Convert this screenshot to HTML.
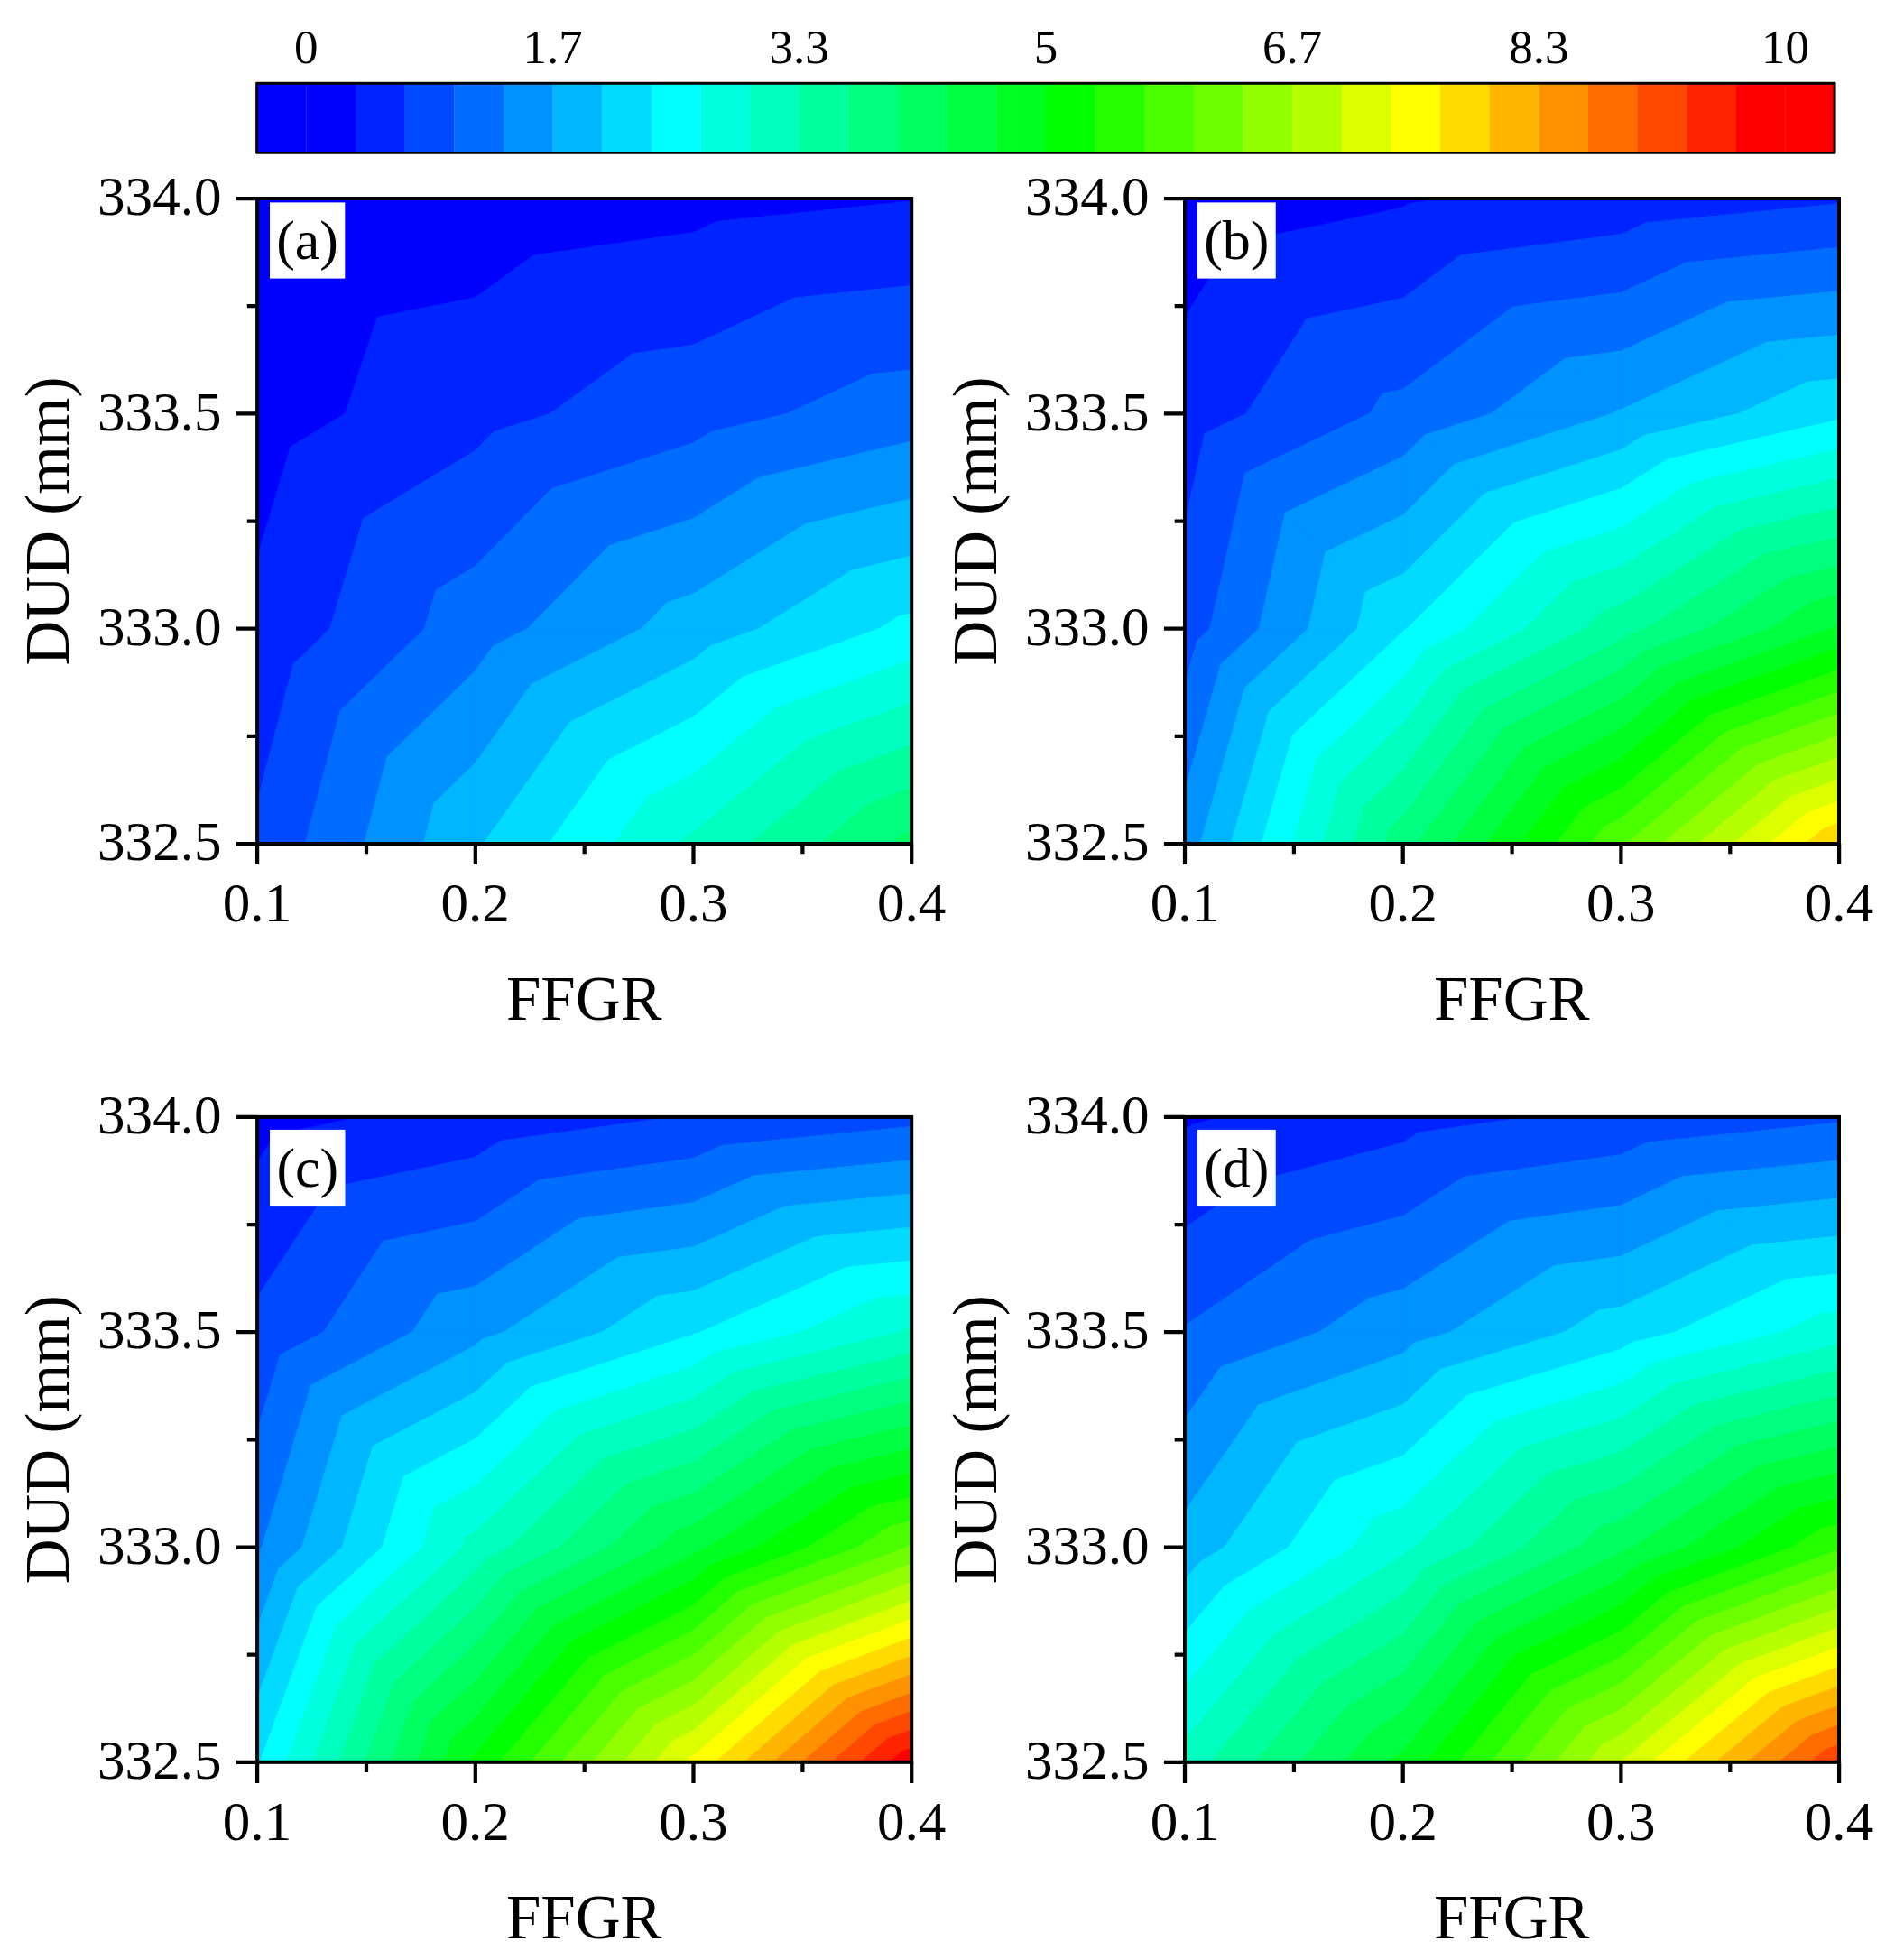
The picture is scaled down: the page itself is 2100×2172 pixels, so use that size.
<!DOCTYPE html>
<html><head><meta charset="utf-8"><title>Contour</title>
<style>html,body{margin:0;padding:0;background:#fff}svg{display:block}text{font-family:"Liberation Serif","Times New Roman",serif;fill:#000}</style></head><body>
<svg width="2100" height="2172" viewBox="0 0 2100 2172">
<rect width="2100" height="2172" fill="#fff"/>
<rect x="284.65" y="92.3" width="54.94" height="77.1" fill="#0000ff"/>
<rect x="339.29" y="92.3" width="54.94" height="77.1" fill="#0000ff"/>
<rect x="393.93" y="92.3" width="54.94" height="77.1" fill="#0024ff"/>
<rect x="448.57" y="92.3" width="54.94" height="77.1" fill="#0049ff"/>
<rect x="503.21" y="92.3" width="54.94" height="77.1" fill="#006dff"/>
<rect x="557.85" y="92.3" width="54.94" height="77.1" fill="#0092ff"/>
<rect x="612.49" y="92.3" width="54.94" height="77.1" fill="#00b6ff"/>
<rect x="667.13" y="92.3" width="54.94" height="77.1" fill="#00dbff"/>
<rect x="721.77" y="92.3" width="54.94" height="77.1" fill="#00ffff"/>
<rect x="776.42" y="92.3" width="54.94" height="77.1" fill="#00ffdf"/>
<rect x="831.06" y="92.3" width="54.94" height="77.1" fill="#00ffbf"/>
<rect x="885.70" y="92.3" width="54.94" height="77.1" fill="#00ff9f"/>
<rect x="940.34" y="92.3" width="54.94" height="77.1" fill="#00ff80"/>
<rect x="994.98" y="92.3" width="54.94" height="77.1" fill="#00ff60"/>
<rect x="1049.62" y="92.3" width="54.94" height="77.1" fill="#00ff40"/>
<rect x="1104.26" y="92.3" width="54.94" height="77.1" fill="#00ff20"/>
<rect x="1158.90" y="92.3" width="54.94" height="77.1" fill="#00ff00"/>
<rect x="1213.54" y="92.3" width="54.94" height="77.1" fill="#24ff00"/>
<rect x="1268.18" y="92.3" width="54.94" height="77.1" fill="#49ff00"/>
<rect x="1322.82" y="92.3" width="54.94" height="77.1" fill="#6dff00"/>
<rect x="1377.46" y="92.3" width="54.94" height="77.1" fill="#92ff00"/>
<rect x="1432.10" y="92.3" width="54.94" height="77.1" fill="#b6ff00"/>
<rect x="1486.74" y="92.3" width="54.94" height="77.1" fill="#dbff00"/>
<rect x="1541.38" y="92.3" width="54.94" height="77.1" fill="#ffff00"/>
<rect x="1596.03" y="92.3" width="54.94" height="77.1" fill="#ffdb00"/>
<rect x="1650.67" y="92.3" width="54.94" height="77.1" fill="#ffb600"/>
<rect x="1705.31" y="92.3" width="54.94" height="77.1" fill="#ff9200"/>
<rect x="1759.95" y="92.3" width="54.94" height="77.1" fill="#ff6d00"/>
<rect x="1814.59" y="92.3" width="54.94" height="77.1" fill="#ff4900"/>
<rect x="1869.23" y="92.3" width="54.94" height="77.1" fill="#ff2400"/>
<rect x="1923.87" y="92.3" width="54.94" height="77.1" fill="#ff0000"/>
<rect x="1978.51" y="92.3" width="54.94" height="77.1" fill="#ff0000"/>
<rect x="284.6" y="92.3" width="1748.5" height="77.1" fill="none" stroke="#000" stroke-width="2.9" stroke-linejoin="round"/>
<text x="339.3" y="70.0" font-size="53.0" text-anchor="middle" >0</text>
<text x="612.5" y="70.0" font-size="53.0" text-anchor="middle" >1.7</text>
<text x="885.7" y="70.0" font-size="53.0" text-anchor="middle" >3.3</text>
<text x="1158.9" y="70.0" font-size="53.0" text-anchor="middle" >5</text>
<text x="1432.1" y="70.0" font-size="53.0" text-anchor="middle" >6.7</text>
<text x="1705.3" y="70.0" font-size="53.0" text-anchor="middle" >8.3</text>
<text x="1978.5" y="70.0" font-size="53.0" text-anchor="middle" >10</text>
<g>
<rect x="285.1" y="220.0" width="725.1" height="715.0" fill="#0000ff"/>
<path d="M526.8,329.7L526.8,458.3L418.4,351.4ZM418.4,351.4L526.8,458.3L382.7,458.3ZM382.7,458.3L526.8,458.3L526.8,696.7L322.2,494.9ZM322.2,494.9L526.8,696.7L285.1,696.7L285.1,617.2ZM285.1,696.7L526.8,696.7L526.8,935.0ZM285.1,696.7L526.8,935.0L285.1,935.0ZM768.5,257.5L768.5,458.3L590.8,283.1ZM590.8,283.1L768.5,458.3L526.8,458.3L526.8,329.7ZM526.8,458.3L768.5,458.3L768.5,696.7ZM526.8,458.3L768.5,696.7L526.8,696.7ZM526.8,696.7L768.5,696.7L768.5,935.0ZM526.8,696.7L768.5,935.0L526.8,935.0ZM1010.2,222.9L1010.2,458.3L794.3,245.5ZM794.3,245.5L1010.2,458.3L768.5,458.3L768.5,257.5ZM768.5,458.3L1010.2,458.3L1010.2,696.7ZM768.5,458.3L1010.2,696.7L768.5,696.7ZM768.5,696.7L1010.2,696.7L1010.2,935.0ZM768.5,696.7L1010.2,935.0L768.5,935.0Z" fill="#0024ff" stroke="#0024ff" stroke-width="1" stroke-linejoin="round"/>
<path d="M526.8,499.3L526.8,696.7L402.8,574.3ZM402.8,574.3L526.8,696.7L365.7,696.7ZM365.7,696.7L526.8,696.7L526.8,935.0L325.2,736.1ZM325.2,736.1L526.8,935.0L285.1,935.0L285.1,887.8ZM768.5,382.3L768.5,458.3L701.2,391.9ZM701.2,391.9L768.5,458.3L610.0,458.3ZM610.0,458.3L768.5,458.3L768.5,696.7L547.3,478.5ZM547.3,478.5L768.5,696.7L526.8,696.7L526.8,499.3ZM526.8,696.7L768.5,696.7L768.5,935.0ZM526.8,696.7L768.5,935.0L526.8,935.0ZM1010.2,316.5L1010.2,458.3L880.1,330.1ZM880.1,330.1L1010.2,458.3L768.5,458.3L768.5,382.3ZM768.5,458.3L1010.2,458.3L1010.2,696.7ZM768.5,458.3L1010.2,696.7L768.5,696.7ZM768.5,696.7L1010.2,696.7L1010.2,935.0ZM768.5,696.7L1010.2,935.0L768.5,935.0Z" fill="#0049ff" stroke="#0049ff" stroke-width="1" stroke-linejoin="round"/>
<path d="M526.8,627.5L526.8,696.7L483.3,653.8ZM483.3,653.8L526.8,696.7L470.3,696.7ZM470.3,696.7L526.8,696.7L526.8,935.0L377.1,787.4ZM377.1,787.4L526.8,935.0L338.2,935.0ZM768.5,490.9L768.5,696.7L611.2,541.6ZM611.2,541.6L768.5,696.7L526.8,696.7L526.8,627.5ZM526.8,696.7L768.5,696.7L768.5,935.0ZM526.8,696.7L768.5,935.0L526.8,935.0ZM1010.2,410.0L1010.2,458.3L965.9,414.7ZM965.9,414.7L1010.2,458.3L872.6,458.3ZM872.6,458.3L1010.2,458.3L1010.2,696.7L788.7,478.3ZM788.7,478.3L1010.2,696.7L768.5,696.7L768.5,490.9ZM768.5,696.7L1010.2,696.7L1010.2,935.0ZM768.5,696.7L1010.2,935.0L768.5,935.0Z" fill="#006dff" stroke="#006dff" stroke-width="1" stroke-linejoin="round"/>
<path d="M526.8,743.5L526.8,935.0L429.1,838.6ZM429.1,838.6L526.8,935.0L403.7,935.0ZM768.5,574.6L768.5,696.7L675.2,604.6ZM675.2,604.6L768.5,696.7L584.7,696.7ZM584.7,696.7L768.5,696.7L768.5,935.0L546.4,716.0ZM546.4,716.0L768.5,935.0L526.8,935.0L526.8,743.5ZM1010.2,489.1L1010.2,696.7L840.6,529.4ZM840.6,529.4L1010.2,696.7L768.5,696.7L768.5,574.6ZM768.5,696.7L1010.2,696.7L1010.2,935.0ZM768.5,696.7L1010.2,935.0L768.5,935.0Z" fill="#0092ff" stroke="#0092ff" stroke-width="1" stroke-linejoin="round"/>
<path d="M526.8,845.4L526.8,935.0L481.1,889.9ZM481.1,889.9L526.8,935.0L469.2,935.0ZM768.5,658.2L768.5,696.7L739.1,667.7ZM739.1,667.7L768.5,696.7L710.6,696.7ZM710.6,696.7L768.5,696.7L768.5,935.0L589.1,758.0ZM589.1,758.0L768.5,935.0L526.8,935.0L526.8,845.4ZM1010.2,552.6L1010.2,696.7L892.5,580.6ZM892.5,580.6L1010.2,696.7L768.5,696.7L768.5,658.2ZM768.5,696.7L1010.2,696.7L1010.2,935.0ZM768.5,696.7L1010.2,935.0L768.5,935.0Z" fill="#00b6ff" stroke="#00b6ff" stroke-width="1" stroke-linejoin="round"/>
<path d="M768.5,731.0L768.5,935.0L631.7,800.1ZM631.7,800.1L768.5,935.0L535.5,935.0ZM1010.2,616.1L1010.2,696.7L944.4,631.8ZM944.4,631.8L1010.2,696.7L840.7,696.7ZM840.7,696.7L1010.2,696.7L1010.2,935.0L787.6,715.5ZM787.6,715.5L1010.2,935.0L768.5,935.0L768.5,731.0Z" fill="#00dbff" stroke="#00dbff" stroke-width="1" stroke-linejoin="round"/>
<path d="M768.5,794.5L768.5,935.0L674.3,842.1ZM674.3,842.1L768.5,935.0L608.1,935.0ZM1010.2,679.6L1010.2,696.7L996.2,682.9ZM996.2,682.9L1010.2,696.7L974.3,696.7ZM974.3,696.7L1010.2,696.7L1010.2,935.0L822.9,750.3ZM822.9,750.3L1010.2,935.0L768.5,935.0L768.5,794.5Z" fill="#00ffff" stroke="#00ffff" stroke-width="1" stroke-linejoin="round"/>
<path d="M768.5,858.1L768.5,935.0L716.9,884.1ZM716.9,884.1L768.5,935.0L680.7,935.0ZM1010.2,731.3L1010.2,935.0L858.3,785.2ZM858.3,785.2L1010.2,935.0L768.5,935.0L768.5,858.1Z" fill="#00ffdf" stroke="#00ffdf" stroke-width="1" stroke-linejoin="round"/>
<path d="M768.5,921.7L768.5,935.0L759.6,926.2ZM759.6,926.2L768.5,935.0L753.3,935.0ZM1010.2,778.7L1010.2,935.0L893.6,820.0ZM893.6,820.0L1010.2,935.0L768.5,935.0L768.5,921.7Z" fill="#00ffbf" stroke="#00ffbf" stroke-width="1" stroke-linejoin="round"/>
<path d="M1010.2,826.0L1010.2,935.0L928.9,854.9ZM928.9,854.9L1010.2,935.0L830.3,935.0Z" fill="#00ff9f" stroke="#00ff9f" stroke-width="1" stroke-linejoin="round"/>
<path d="M1010.2,873.4L1010.2,935.0L964.3,889.7ZM964.3,889.7L1010.2,935.0L908.5,935.0Z" fill="#00ff80" stroke="#00ff80" stroke-width="1" stroke-linejoin="round"/>
<path d="M1010.2,920.8L1010.2,935.0L999.6,924.5ZM999.6,924.5L1010.2,935.0L986.7,935.0Z" fill="#00ff60" stroke="#00ff60" stroke-width="1" stroke-linejoin="round"/>
</g>
<rect x="285.1" y="220.0" width="725.1" height="715.0" fill="none" stroke="#000" stroke-width="4.0"/>
<path d="M285.1,220.0h-23.1M285.1,935.0v23.1M285.1,339.2h-11.3M406.0,935.0v11.3M285.1,458.3h-23.1M526.8,935.0v23.1M285.1,577.5h-11.3M647.7,935.0v11.3M285.1,696.7h-23.1M768.5,935.0v23.1M285.1,815.8h-11.3M889.4,935.0v11.3M285.1,935.0h-23.1M1010.2,935.0v23.1" stroke="#000" stroke-width="4.25" fill="none"/>
<text x="245.5" y="238.2" font-size="61.1" text-anchor="end" >334.0</text>
<text x="245.5" y="476.5" font-size="61.1" text-anchor="end" >333.5</text>
<text x="245.5" y="714.9" font-size="61.1" text-anchor="end" >333.0</text>
<text x="245.5" y="953.2" font-size="61.1" text-anchor="end" >332.5</text>
<text x="285.0" y="1020.9" font-size="61.1" text-anchor="middle" >0.1</text>
<text x="526.7" y="1020.9" font-size="61.1" text-anchor="middle" >0.2</text>
<text x="768.4" y="1020.9" font-size="61.1" text-anchor="middle" >0.3</text>
<text x="1010.1" y="1020.9" font-size="61.1" text-anchor="middle" >0.4</text>
<text x="647.3" y="1130.4" font-size="69.0" text-anchor="middle" >FFGR</text>
<text transform="translate(75.7,577.5) rotate(-90)" font-size="69.0" text-anchor="middle">DUD (mm)</text>
<rect x="299.0" y="224.4" width="83.3" height="84.2" fill="#fff"/>
<text x="340.6" y="287.1" font-size="62.0" text-anchor="middle" >(a)</text>
<g>
<rect x="1313.0" y="220.0" width="725.0" height="715.0" fill="#0000ff"/>
<path d="M1554.7,230.1L1554.7,458.3L1364.2,270.5ZM1364.2,270.5L1554.7,458.3L1313.0,458.3L1313.0,351.0ZM1313.0,458.3L1554.7,458.3L1554.7,696.7ZM1313.0,458.3L1554.7,696.7L1313.0,696.7ZM1313.0,696.7L1554.7,696.7L1554.7,935.0ZM1313.0,696.7L1554.7,935.0L1313.0,935.0ZM1604.2,220.0L1796.4,220.0L1796.4,458.3L1560.5,225.7ZM1560.5,225.7L1796.4,458.3L1554.7,458.3L1554.7,230.1ZM1554.7,458.3L1796.4,458.3L1796.4,696.7ZM1554.7,458.3L1796.4,696.7L1554.7,696.7ZM1554.7,696.7L1796.4,696.7L1796.4,935.0ZM1554.7,696.7L1796.4,935.0L1554.7,935.0ZM1796.4,220.0L2038.1,220.0L2038.1,458.3ZM1796.4,220.0L2038.1,458.3L1796.4,458.3ZM1796.4,458.3L2038.1,458.3L2038.1,696.7ZM1796.4,458.3L2038.1,696.7L1796.4,696.7ZM1796.4,696.7L2038.1,696.7L2038.1,935.0ZM1796.4,696.7L2038.1,935.0L1796.4,935.0Z" fill="#0024ff" stroke="#0024ff" stroke-width="1" stroke-linejoin="round"/>
<path d="M1554.7,330.6L1554.7,458.3L1448.2,353.2ZM1448.2,353.2L1554.7,458.3L1381.3,458.3ZM1381.3,458.3L1554.7,458.3L1554.7,696.7L1335.3,480.3ZM1335.3,480.3L1554.7,696.7L1313.0,696.7L1313.0,578.7ZM1313.0,696.7L1554.7,696.7L1554.7,935.0ZM1313.0,696.7L1554.7,935.0L1313.0,935.0ZM1796.4,259.6L1796.4,458.3L1618.5,282.9ZM1618.5,282.9L1796.4,458.3L1554.7,458.3L1554.7,330.6ZM1554.7,458.3L1796.4,458.3L1796.4,696.7ZM1554.7,458.3L1796.4,696.7L1554.7,696.7ZM1554.7,696.7L1796.4,696.7L1796.4,935.0ZM1554.7,696.7L1796.4,935.0L1554.7,935.0ZM2038.1,225.8L2038.1,458.3L1823.7,246.9ZM1823.7,246.9L2038.1,458.3L1796.4,458.3L1796.4,259.6ZM1796.4,458.3L2038.1,458.3L2038.1,696.7ZM1796.4,458.3L2038.1,696.7L1796.4,696.7ZM1796.4,696.7L2038.1,696.7L2038.1,935.0ZM1796.4,696.7L2038.1,935.0L1796.4,935.0Z" fill="#0049ff" stroke="#0049ff" stroke-width="1" stroke-linejoin="round"/>
<path d="M1554.7,431.2L1554.7,458.3L1532.1,436.0ZM1532.1,436.0L1554.7,458.3L1517.9,458.3ZM1517.9,458.3L1554.7,458.3L1554.7,696.7L1379.8,524.2ZM1379.8,524.2L1554.7,696.7L1340.8,696.7ZM1340.8,696.7L1554.7,696.7L1554.7,935.0L1326.6,710.0ZM1326.6,710.0L1554.7,935.0L1313.0,935.0L1313.0,757.1ZM1796.4,324.3L1796.4,458.3L1676.4,340.0ZM1676.4,340.0L1796.4,458.3L1554.7,458.3L1554.7,431.2ZM1554.7,458.3L1796.4,458.3L1796.4,696.7ZM1554.7,458.3L1796.4,696.7L1554.7,696.7ZM1554.7,696.7L1796.4,696.7L1796.4,935.0ZM1554.7,696.7L1796.4,935.0L1554.7,935.0ZM2038.1,274.3L2038.1,458.3L1868.4,291.0ZM1868.4,291.0L2038.1,458.3L1796.4,458.3L1796.4,324.3ZM1796.4,458.3L2038.1,458.3L2038.1,696.7ZM1796.4,458.3L2038.1,696.7L1796.4,696.7ZM1796.4,696.7L2038.1,696.7L2038.1,935.0ZM1796.4,696.7L2038.1,935.0L1796.4,935.0Z" fill="#006dff" stroke="#006dff" stroke-width="1" stroke-linejoin="round"/>
<path d="M1554.7,505.9L1554.7,696.7L1424.3,568.1ZM1424.3,568.1L1554.7,696.7L1395.2,696.7ZM1395.2,696.7L1554.7,696.7L1554.7,935.0L1353.1,736.2ZM1353.1,736.2L1554.7,935.0L1313.0,935.0L1313.0,875.7ZM1796.4,389.1L1796.4,458.3L1734.4,397.2ZM1734.4,397.2L1796.4,458.3L1652.7,458.3ZM1652.7,458.3L1796.4,458.3L1796.4,696.7L1578.8,482.1ZM1578.8,482.1L1796.4,696.7L1554.7,696.7L1554.7,505.9ZM1554.7,696.7L1796.4,696.7L1796.4,935.0ZM1554.7,696.7L1796.4,935.0L1554.7,935.0ZM2038.1,322.8L2038.1,458.3L1913.1,335.1ZM1913.1,335.1L2038.1,458.3L1796.4,458.3L1796.4,389.1ZM1796.4,458.3L2038.1,458.3L2038.1,696.7ZM1796.4,458.3L2038.1,696.7L1796.4,696.7ZM1796.4,696.7L2038.1,696.7L2038.1,935.0ZM1796.4,696.7L2038.1,935.0L1796.4,935.0Z" fill="#0092ff" stroke="#0092ff" stroke-width="1" stroke-linejoin="round"/>
<path d="M1554.7,571.0L1554.7,696.7L1468.8,612.0ZM1468.8,612.0L1554.7,696.7L1449.7,696.7ZM1449.7,696.7L1554.7,696.7L1554.7,935.0L1379.6,762.3ZM1379.6,762.3L1554.7,935.0L1330.1,935.0ZM1796.4,453.8L1796.4,458.3L1792.4,454.3ZM1792.4,454.3L1796.4,458.3L1787.0,458.3ZM1787.0,458.3L1796.4,458.3L1796.4,696.7L1611.7,514.5ZM1611.7,514.5L1796.4,696.7L1554.7,696.7L1554.7,571.0ZM1554.7,696.7L1796.4,696.7L1796.4,935.0ZM1554.7,696.7L1796.4,935.0L1554.7,935.0ZM2038.1,371.3L2038.1,458.3L1957.9,379.2ZM1957.9,379.2L2038.1,458.3L1796.4,458.3L1796.4,453.8ZM1796.4,458.3L2038.1,458.3L2038.1,696.7ZM1796.4,458.3L2038.1,696.7L1796.4,696.7ZM1796.4,696.7L2038.1,696.7L2038.1,935.0ZM1796.4,696.7L2038.1,935.0L1796.4,935.0Z" fill="#00b6ff" stroke="#00b6ff" stroke-width="1" stroke-linejoin="round"/>
<path d="M1554.7,636.1L1554.7,696.7L1513.3,655.8ZM1513.3,655.8L1554.7,696.7L1504.1,696.7ZM1504.1,696.7L1554.7,696.7L1554.7,935.0L1406.2,788.5ZM1406.2,788.5L1554.7,935.0L1364.1,935.0ZM1796.4,498.4L1796.4,696.7L1644.7,547.0ZM1644.7,547.0L1796.4,696.7L1554.7,696.7L1554.7,636.1ZM1554.7,696.7L1796.4,696.7L1796.4,935.0ZM1554.7,696.7L1796.4,935.0L1554.7,935.0ZM2038.1,419.8L2038.1,458.3L2002.6,423.3ZM2002.6,423.3L2038.1,458.3L1926.7,458.3ZM1926.7,458.3L2038.1,458.3L2038.1,696.7L1821.2,482.8ZM1821.2,482.8L2038.1,696.7L1796.4,696.7L1796.4,498.4ZM1796.4,696.7L2038.1,696.7L2038.1,935.0ZM1796.4,696.7L2038.1,935.0L1796.4,935.0Z" fill="#00dbff" stroke="#00dbff" stroke-width="1" stroke-linejoin="round"/>
<path d="M1554.7,700.2L1554.7,935.0L1432.7,814.6ZM1432.7,814.6L1554.7,935.0L1398.1,935.0ZM1796.4,541.4L1796.4,696.7L1677.6,579.5ZM1677.6,579.5L1796.4,696.7L1559.3,696.7ZM1559.3,696.7L1796.4,696.7L1796.4,935.0L1556.3,698.2ZM1556.3,698.2L1796.4,935.0L1554.7,935.0L1554.7,700.2ZM2038.1,465.0L2038.1,696.7L1847.9,509.1ZM1847.9,509.1L2038.1,696.7L1796.4,696.7L1796.4,541.4ZM1796.4,696.7L2038.1,696.7L2038.1,935.0ZM1796.4,696.7L2038.1,935.0L1796.4,935.0Z" fill="#00ffff" stroke="#00ffff" stroke-width="1" stroke-linejoin="round"/>
<path d="M1554.7,751.3L1554.7,935.0L1459.2,840.8ZM1459.2,840.8L1554.7,935.0L1432.2,935.0ZM1796.4,584.5L1796.4,696.7L1710.6,612.0ZM1710.6,612.0L1796.4,696.7L1625.1,696.7ZM1625.1,696.7L1796.4,696.7L1796.4,935.0L1578.4,720.0ZM1578.4,720.0L1796.4,935.0L1554.7,935.0L1554.7,751.3ZM2038.1,497.5L2038.1,696.7L1874.6,535.4ZM1874.6,535.4L2038.1,696.7L1796.4,696.7L1796.4,584.5ZM1796.4,696.7L2038.1,696.7L2038.1,935.0ZM1796.4,696.7L2038.1,935.0L1796.4,935.0Z" fill="#00ffdf" stroke="#00ffdf" stroke-width="1" stroke-linejoin="round"/>
<path d="M1554.7,802.3L1554.7,935.0L1485.7,867.0ZM1485.7,867.0L1554.7,935.0L1466.2,935.0ZM1796.4,627.6L1796.4,696.7L1743.5,644.5ZM1743.5,644.5L1796.4,696.7L1690.9,696.7ZM1690.9,696.7L1796.4,696.7L1796.4,935.0L1600.5,741.8ZM1600.5,741.8L1796.4,935.0L1554.7,935.0L1554.7,802.3ZM2038.1,530.0L2038.1,696.7L1901.3,561.7ZM1901.3,561.7L2038.1,696.7L1796.4,696.7L1796.4,627.6ZM1796.4,696.7L2038.1,696.7L2038.1,935.0ZM1796.4,696.7L2038.1,935.0L1796.4,935.0Z" fill="#00ffbf" stroke="#00ffbf" stroke-width="1" stroke-linejoin="round"/>
<path d="M1554.7,853.3L1554.7,935.0L1512.3,893.1ZM1512.3,893.1L1554.7,935.0L1500.2,935.0ZM1796.4,670.6L1796.4,696.7L1776.5,677.0ZM1776.5,677.0L1796.4,696.7L1756.6,696.7ZM1756.6,696.7L1796.4,696.7L1796.4,935.0L1622.6,763.6ZM1622.6,763.6L1796.4,935.0L1554.7,935.0L1554.7,853.3ZM2038.1,562.5L2038.1,696.7L1927.9,588.0ZM1927.9,588.0L2038.1,696.7L1796.4,696.7L1796.4,670.6ZM1796.4,696.7L2038.1,696.7L2038.1,935.0ZM1796.4,696.7L2038.1,935.0L1796.4,935.0Z" fill="#00ff9f" stroke="#00ff9f" stroke-width="1" stroke-linejoin="round"/>
<path d="M1554.7,904.3L1554.7,935.0L1538.8,919.3ZM1538.8,919.3L1554.7,935.0L1534.3,935.0ZM1796.4,709.6L1796.4,935.0L1644.7,785.4ZM1644.7,785.4L1796.4,935.0L1554.7,935.0L1554.7,904.3ZM2038.1,595.0L2038.1,696.7L1954.6,614.3ZM1954.6,614.3L2038.1,696.7L1823.5,696.7ZM1823.5,696.7L2038.1,696.7L2038.1,935.0L1803.6,703.7ZM1803.6,703.7L2038.1,935.0L1796.4,935.0L1796.4,709.6Z" fill="#00ff80" stroke="#00ff80" stroke-width="1" stroke-linejoin="round"/>
<path d="M1796.4,742.5L1796.4,935.0L1666.8,807.2ZM1666.8,807.2L1796.4,935.0L1570.1,935.0ZM2038.1,627.5L2038.1,696.7L1981.3,640.6ZM1981.3,640.6L2038.1,696.7L1892.1,696.7ZM1892.1,696.7L2038.1,696.7L2038.1,935.0L1821.7,721.6ZM1821.7,721.6L2038.1,935.0L1796.4,935.0L1796.4,742.5Z" fill="#00ff60" stroke="#00ff60" stroke-width="1" stroke-linejoin="round"/>
<path d="M1796.4,775.3L1796.4,935.0L1688.9,829.0ZM1688.9,829.0L1796.4,935.0L1608.7,935.0ZM2038.1,660.0L2038.1,696.7L2008.0,666.9ZM2008.0,666.9L2038.1,696.7L1960.6,696.7ZM1960.6,696.7L2038.1,696.7L2038.1,935.0L1839.8,739.5ZM1839.8,739.5L2038.1,935.0L1796.4,935.0L1796.4,775.3Z" fill="#00ff40" stroke="#00ff40" stroke-width="1" stroke-linejoin="round"/>
<path d="M1796.4,808.1L1796.4,935.0L1711.0,850.8ZM1711.0,850.8L1796.4,935.0L1647.3,935.0ZM2038.1,692.4L2038.1,696.7L2034.6,693.2ZM2034.6,693.2L2038.1,696.7L2029.2,696.7ZM2029.2,696.7L2038.1,696.7L2038.1,935.0L1857.9,757.3ZM1857.9,757.3L2038.1,935.0L1796.4,935.0L1796.4,808.1Z" fill="#00ff20" stroke="#00ff20" stroke-width="1" stroke-linejoin="round"/>
<path d="M1796.4,840.9L1796.4,935.0L1733.1,872.6ZM1733.1,872.6L1796.4,935.0L1685.9,935.0ZM2038.1,717.8L2038.1,935.0L1876.1,775.2ZM1876.1,775.2L2038.1,935.0L1796.4,935.0L1796.4,840.9Z" fill="#00ff00" stroke="#00ff00" stroke-width="1" stroke-linejoin="round"/>
<path d="M1796.4,873.8L1796.4,935.0L1755.2,894.4ZM1755.2,894.4L1796.4,935.0L1724.5,935.0ZM2038.1,742.1L2038.1,935.0L1894.2,793.1ZM1894.2,793.1L2038.1,935.0L1796.4,935.0L1796.4,873.8Z" fill="#24ff00" stroke="#24ff00" stroke-width="1" stroke-linejoin="round"/>
<path d="M1796.4,906.6L1796.4,935.0L1777.3,916.1ZM1777.3,916.1L1796.4,935.0L1763.0,935.0ZM2038.1,766.4L2038.1,935.0L1912.3,811.0ZM1912.3,811.0L2038.1,935.0L1796.4,935.0L1796.4,906.6Z" fill="#49ff00" stroke="#49ff00" stroke-width="1" stroke-linejoin="round"/>
<path d="M2038.1,790.7L2038.1,935.0L1930.4,828.8ZM1930.4,828.8L2038.1,935.0L1801.8,935.0Z" fill="#6dff00" stroke="#6dff00" stroke-width="1" stroke-linejoin="round"/>
<path d="M2038.1,815.0L2038.1,935.0L1948.6,846.7ZM1948.6,846.7L2038.1,935.0L1841.6,935.0Z" fill="#92ff00" stroke="#92ff00" stroke-width="1" stroke-linejoin="round"/>
<path d="M2038.1,839.3L2038.1,935.0L1966.7,864.6ZM1966.7,864.6L2038.1,935.0L1881.4,935.0Z" fill="#b6ff00" stroke="#b6ff00" stroke-width="1" stroke-linejoin="round"/>
<path d="M2038.1,863.6L2038.1,935.0L1984.8,882.5ZM1984.8,882.5L2038.1,935.0L1921.1,935.0Z" fill="#dbff00" stroke="#dbff00" stroke-width="1" stroke-linejoin="round"/>
<path d="M2038.1,887.9L2038.1,935.0L2002.9,900.3ZM2002.9,900.3L2038.1,935.0L1960.9,935.0Z" fill="#ffff00" stroke="#ffff00" stroke-width="1" stroke-linejoin="round"/>
<path d="M2038.1,912.2L2038.1,935.0L2021.1,918.2ZM2021.1,918.2L2038.1,935.0L2000.7,935.0Z" fill="#ffdb00" stroke="#ffdb00" stroke-width="1" stroke-linejoin="round"/>
</g>
<rect x="1313.0" y="220.0" width="725.0" height="715.0" fill="none" stroke="#000" stroke-width="4.0"/>
<path d="M1313.0,220.0h-23.1M1313.0,935.0v23.1M1313.0,339.2h-11.3M1433.9,935.0v11.3M1313.0,458.3h-23.1M1554.7,935.0v23.1M1313.0,577.5h-11.3M1675.6,935.0v11.3M1313.0,696.7h-23.1M1796.4,935.0v23.1M1313.0,815.8h-11.3M1917.3,935.0v11.3M1313.0,935.0h-23.1M2038.1,935.0v23.1" stroke="#000" stroke-width="4.25" fill="none"/>
<text x="1273.5" y="238.2" font-size="61.1" text-anchor="end" >334.0</text>
<text x="1273.5" y="476.5" font-size="61.1" text-anchor="end" >333.5</text>
<text x="1273.5" y="714.9" font-size="61.1" text-anchor="end" >333.0</text>
<text x="1273.5" y="953.2" font-size="61.1" text-anchor="end" >332.5</text>
<text x="1313.0" y="1020.9" font-size="61.1" text-anchor="middle" >0.1</text>
<text x="1554.6" y="1020.9" font-size="61.1" text-anchor="middle" >0.2</text>
<text x="1796.3" y="1020.9" font-size="61.1" text-anchor="middle" >0.3</text>
<text x="2038.0" y="1020.9" font-size="61.1" text-anchor="middle" >0.4</text>
<text x="1675.2" y="1130.4" font-size="69.0" text-anchor="middle" >FFGR</text>
<text transform="translate(1103.6,577.5) rotate(-90)" font-size="69.0" text-anchor="middle">DUD (mm)</text>
<rect x="1326.9" y="224.4" width="86.8" height="84.2" fill="#fff"/>
<text x="1370.3" y="287.1" font-size="62.0" text-anchor="middle" >(b)</text>
<g>
<rect x="285.1" y="1237.9" width="725.1" height="714.9" fill="#0000ff"/>
<path d="M398.2,1237.9L526.8,1237.9L526.8,1476.2L305.1,1257.6ZM305.1,1257.6L526.8,1476.2L285.1,1476.2L285.1,1288.0ZM285.1,1476.2L526.8,1476.2L526.8,1714.5ZM285.1,1476.2L526.8,1714.5L285.1,1714.5ZM285.1,1714.5L526.8,1714.5L526.8,1952.8ZM285.1,1714.5L526.8,1952.8L285.1,1952.8ZM526.8,1237.9L768.5,1237.9L768.5,1476.2ZM526.8,1237.9L768.5,1476.2L526.8,1476.2ZM526.8,1476.2L768.5,1476.2L768.5,1714.5ZM526.8,1476.2L768.5,1714.5L526.8,1714.5ZM526.8,1714.5L768.5,1714.5L768.5,1952.8ZM526.8,1714.5L768.5,1952.8L526.8,1952.8ZM768.5,1237.9L1010.2,1237.9L1010.2,1476.2ZM768.5,1237.9L1010.2,1476.2L768.5,1476.2ZM768.5,1476.2L1010.2,1476.2L1010.2,1714.5ZM768.5,1476.2L1010.2,1714.5L768.5,1714.5ZM768.5,1714.5L1010.2,1714.5L1010.2,1952.8ZM768.5,1714.5L1010.2,1952.8L768.5,1952.8Z" fill="#0024ff" stroke="#0024ff" stroke-width="1" stroke-linejoin="round"/>
<path d="M526.8,1282.3L526.8,1476.2L364.9,1316.5ZM364.9,1316.5L526.8,1476.2L285.1,1476.2L285.1,1437.8ZM285.1,1476.2L526.8,1476.2L526.8,1714.5ZM285.1,1476.2L526.8,1714.5L285.1,1714.5ZM285.1,1714.5L526.8,1714.5L526.8,1952.8ZM285.1,1714.5L526.8,1952.8L285.1,1952.8ZM744.0,1237.9L768.5,1237.9L768.5,1476.2L553.8,1264.5ZM553.8,1264.5L768.5,1476.2L526.8,1476.2L526.8,1282.3ZM526.8,1476.2L768.5,1476.2L768.5,1714.5ZM526.8,1476.2L768.5,1714.5L526.8,1714.5ZM526.8,1714.5L768.5,1714.5L768.5,1952.8ZM526.8,1714.5L768.5,1952.8L526.8,1952.8ZM768.5,1237.9L1010.2,1237.9L1010.2,1476.2ZM768.5,1237.9L1010.2,1476.2L768.5,1476.2ZM768.5,1476.2L1010.2,1476.2L1010.2,1714.5ZM768.5,1476.2L1010.2,1714.5L768.5,1714.5ZM768.5,1714.5L1010.2,1714.5L1010.2,1952.8ZM768.5,1714.5L1010.2,1952.8L768.5,1952.8Z" fill="#0049ff" stroke="#0049ff" stroke-width="1" stroke-linejoin="round"/>
<path d="M526.8,1353.8L526.8,1476.2L424.6,1375.4ZM424.6,1375.4L526.8,1476.2L358.4,1476.2ZM358.4,1476.2L526.8,1476.2L526.8,1714.5L310.6,1501.3ZM310.6,1501.3L526.8,1714.5L285.1,1714.5L285.1,1585.0ZM285.1,1714.5L526.8,1714.5L526.8,1952.8ZM285.1,1714.5L526.8,1952.8L285.1,1952.8ZM768.5,1283.5L768.5,1476.2L597.4,1307.5ZM597.4,1307.5L768.5,1476.2L526.8,1476.2L526.8,1353.8ZM526.8,1476.2L768.5,1476.2L768.5,1714.5ZM526.8,1476.2L768.5,1714.5L526.8,1714.5ZM526.8,1714.5L768.5,1714.5L768.5,1952.8ZM526.8,1714.5L768.5,1952.8L526.8,1952.8ZM1010.2,1248.5L1010.2,1476.2L800.4,1269.3ZM800.4,1269.3L1010.2,1476.2L768.5,1476.2L768.5,1283.5ZM768.5,1476.2L1010.2,1476.2L1010.2,1714.5ZM768.5,1476.2L1010.2,1714.5L768.5,1714.5ZM768.5,1714.5L1010.2,1714.5L1010.2,1952.8ZM768.5,1714.5L1010.2,1952.8L768.5,1952.8Z" fill="#006dff" stroke="#006dff" stroke-width="1" stroke-linejoin="round"/>
<path d="M526.8,1425.4L526.8,1476.2L484.4,1434.4ZM484.4,1434.4L526.8,1476.2L456.9,1476.2ZM456.9,1476.2L526.8,1476.2L526.8,1714.5L344.8,1535.0ZM344.8,1535.0L526.8,1714.5L290.3,1714.5ZM290.3,1714.5L526.8,1714.5L526.8,1952.8L287.6,1716.9ZM287.6,1716.9L526.8,1952.8L285.1,1952.8L285.1,1723.6ZM768.5,1332.6L768.5,1476.2L641.0,1350.5ZM641.0,1350.5L768.5,1476.2L526.8,1476.2L526.8,1425.4ZM526.8,1476.2L768.5,1476.2L768.5,1714.5ZM526.8,1476.2L768.5,1714.5L526.8,1714.5ZM526.8,1714.5L768.5,1714.5L768.5,1952.8ZM526.8,1714.5L768.5,1952.8L526.8,1952.8ZM1010.2,1285.7L1010.2,1476.2L834.7,1303.1ZM834.7,1303.1L1010.2,1476.2L768.5,1476.2L768.5,1332.6ZM768.5,1476.2L1010.2,1476.2L1010.2,1714.5ZM768.5,1476.2L1010.2,1714.5L768.5,1714.5ZM768.5,1714.5L1010.2,1714.5L1010.2,1952.8ZM768.5,1714.5L1010.2,1952.8L768.5,1952.8Z" fill="#0092ff" stroke="#0092ff" stroke-width="1" stroke-linejoin="round"/>
<path d="M526.8,1491.2L526.8,1714.5L379.0,1568.8ZM379.0,1568.8L526.8,1714.5L334.7,1714.5ZM334.7,1714.5L526.8,1714.5L526.8,1952.8L308.9,1737.9ZM308.9,1737.9L526.8,1952.8L285.1,1952.8L285.1,1802.6ZM768.5,1381.7L768.5,1476.2L684.6,1393.4ZM684.6,1393.4L768.5,1476.2L558.4,1476.2ZM558.4,1476.2L768.5,1476.2L768.5,1714.5L534.6,1483.9ZM534.6,1483.9L768.5,1714.5L526.8,1714.5L526.8,1491.2ZM526.8,1714.5L768.5,1714.5L768.5,1952.8ZM526.8,1714.5L768.5,1952.8L526.8,1952.8ZM1010.2,1322.9L1010.2,1476.2L869.0,1336.9ZM869.0,1336.9L1010.2,1476.2L768.5,1476.2L768.5,1381.7ZM768.5,1476.2L1010.2,1476.2L1010.2,1714.5ZM768.5,1476.2L1010.2,1714.5L768.5,1714.5ZM768.5,1714.5L1010.2,1714.5L1010.2,1952.8ZM768.5,1714.5L1010.2,1952.8L768.5,1952.8Z" fill="#00b6ff" stroke="#00b6ff" stroke-width="1" stroke-linejoin="round"/>
<path d="M526.8,1542.9L526.8,1714.5L413.2,1602.5ZM413.2,1602.5L526.8,1714.5L379.2,1714.5ZM379.2,1714.5L526.8,1714.5L526.8,1952.8L330.2,1758.9ZM330.2,1758.9L526.8,1952.8L285.1,1952.8L285.1,1881.7ZM768.5,1430.7L768.5,1476.2L728.1,1436.4ZM728.1,1436.4L768.5,1476.2L667.5,1476.2ZM667.5,1476.2L768.5,1476.2L768.5,1714.5L561.5,1510.4ZM561.5,1510.4L768.5,1714.5L526.8,1714.5L526.8,1542.9ZM526.8,1714.5L768.5,1714.5L768.5,1952.8ZM526.8,1714.5L768.5,1952.8L526.8,1952.8ZM1010.2,1360.1L1010.2,1476.2L903.2,1370.7ZM903.2,1370.7L1010.2,1476.2L768.5,1476.2L768.5,1430.7ZM768.5,1476.2L1010.2,1476.2L1010.2,1714.5ZM768.5,1476.2L1010.2,1714.5L768.5,1714.5ZM768.5,1714.5L1010.2,1714.5L1010.2,1952.8ZM768.5,1714.5L1010.2,1952.8L768.5,1952.8Z" fill="#00dbff" stroke="#00dbff" stroke-width="1" stroke-linejoin="round"/>
<path d="M526.8,1594.5L526.8,1714.5L447.4,1636.2ZM447.4,1636.2L526.8,1714.5L423.6,1714.5ZM423.6,1714.5L526.8,1714.5L526.8,1952.8L351.5,1780.0ZM351.5,1780.0L526.8,1952.8L288.1,1952.8ZM768.5,1478.8L768.5,1714.5L588.4,1536.9ZM588.4,1536.9L768.5,1714.5L526.8,1714.5L526.8,1594.5ZM526.8,1714.5L768.5,1714.5L768.5,1952.8ZM526.8,1714.5L768.5,1952.8L526.8,1952.8ZM1010.2,1397.3L1010.2,1476.2L937.5,1404.5ZM937.5,1404.5L1010.2,1476.2L776.6,1476.2ZM776.6,1476.2L1010.2,1476.2L1010.2,1714.5L770.1,1477.8ZM770.1,1477.8L1010.2,1714.5L768.5,1714.5L768.5,1478.8ZM768.5,1714.5L1010.2,1714.5L1010.2,1952.8ZM768.5,1714.5L1010.2,1952.8L768.5,1952.8Z" fill="#00ffff" stroke="#00ffff" stroke-width="1" stroke-linejoin="round"/>
<path d="M526.8,1646.2L526.8,1714.5L481.6,1669.9ZM481.6,1669.9L526.8,1714.5L468.1,1714.5ZM468.1,1714.5L526.8,1714.5L526.8,1952.8L372.9,1801.0ZM372.9,1801.0L526.8,1952.8L317.1,1952.8ZM768.5,1514.0L768.5,1714.5L615.3,1563.5ZM615.3,1563.5L768.5,1714.5L526.8,1714.5L526.8,1646.2ZM526.8,1714.5L768.5,1714.5L768.5,1952.8ZM526.8,1714.5L768.5,1952.8L526.8,1952.8ZM1010.2,1434.5L1010.2,1476.2L971.8,1438.3ZM971.8,1438.3L1010.2,1476.2L886.8,1476.2ZM886.8,1476.2L1010.2,1476.2L1010.2,1714.5L791.7,1499.1ZM791.7,1499.1L1010.2,1714.5L768.5,1714.5L768.5,1514.0ZM768.5,1714.5L1010.2,1714.5L1010.2,1952.8ZM768.5,1714.5L1010.2,1952.8L768.5,1952.8Z" fill="#00ffdf" stroke="#00ffdf" stroke-width="1" stroke-linejoin="round"/>
<path d="M526.8,1697.9L526.8,1714.5L515.9,1703.7ZM515.9,1703.7L526.8,1714.5L512.6,1714.5ZM512.6,1714.5L526.8,1714.5L526.8,1952.8L394.2,1822.0ZM394.2,1822.0L526.8,1952.8L346.1,1952.8ZM768.5,1549.2L768.5,1714.5L642.2,1590.0ZM642.2,1590.0L768.5,1714.5L526.8,1714.5L526.8,1697.9ZM526.8,1714.5L768.5,1714.5L768.5,1952.8ZM526.8,1714.5L768.5,1952.8L526.8,1952.8ZM1010.2,1471.7L1010.2,1476.2L1006.1,1472.1ZM1006.1,1472.1L1010.2,1476.2L997.0,1476.2ZM997.0,1476.2L1010.2,1476.2L1010.2,1714.5L813.4,1520.5ZM813.4,1520.5L1010.2,1714.5L768.5,1714.5L768.5,1549.2ZM768.5,1714.5L1010.2,1714.5L1010.2,1952.8ZM768.5,1714.5L1010.2,1952.8L768.5,1952.8Z" fill="#00ffbf" stroke="#00ffbf" stroke-width="1" stroke-linejoin="round"/>
<path d="M526.8,1741.9L526.8,1952.8L415.5,1843.0ZM415.5,1843.0L526.8,1952.8L375.1,1952.8ZM768.5,1584.4L768.5,1714.5L669.1,1616.5ZM669.1,1616.5L768.5,1714.5L564.4,1714.5ZM564.4,1714.5L768.5,1714.5L768.5,1952.8L539.5,1727.0ZM539.5,1727.0L768.5,1952.8L526.8,1952.8L526.8,1741.9ZM1010.2,1499.6L1010.2,1714.5L835.0,1541.8ZM835.0,1541.8L1010.2,1714.5L768.5,1714.5L768.5,1584.4ZM768.5,1714.5L1010.2,1714.5L1010.2,1952.8ZM768.5,1714.5L1010.2,1952.8L768.5,1952.8Z" fill="#00ff9f" stroke="#00ff9f" stroke-width="1" stroke-linejoin="round"/>
<path d="M526.8,1782.3L526.8,1952.8L436.8,1864.0ZM436.8,1864.0L526.8,1952.8L404.2,1952.8ZM768.5,1619.6L768.5,1714.5L696.0,1643.0ZM696.0,1643.0L768.5,1714.5L619.6,1714.5ZM619.6,1714.5L768.5,1714.5L768.5,1952.8L558.2,1745.4ZM558.2,1745.4L768.5,1952.8L526.8,1952.8L526.8,1782.3ZM1010.2,1526.1L1010.2,1714.5L856.7,1563.1ZM856.7,1563.1L1010.2,1714.5L768.5,1714.5L768.5,1619.6ZM768.5,1714.5L1010.2,1714.5L1010.2,1952.8ZM768.5,1714.5L1010.2,1952.8L768.5,1952.8Z" fill="#00ff80" stroke="#00ff80" stroke-width="1" stroke-linejoin="round"/>
<path d="M526.8,1822.6L526.8,1952.8L458.1,1885.0ZM458.1,1885.0L526.8,1952.8L433.2,1952.8ZM768.5,1654.8L768.5,1714.5L722.9,1669.5ZM722.9,1669.5L768.5,1714.5L674.9,1714.5ZM674.9,1714.5L768.5,1714.5L768.5,1952.8L576.9,1763.8ZM576.9,1763.8L768.5,1952.8L526.8,1952.8L526.8,1822.6ZM1010.2,1552.7L1010.2,1714.5L878.3,1584.5ZM878.3,1584.5L1010.2,1714.5L768.5,1714.5L768.5,1654.8ZM768.5,1714.5L1010.2,1714.5L1010.2,1952.8ZM768.5,1714.5L1010.2,1952.8L768.5,1952.8Z" fill="#00ff60" stroke="#00ff60" stroke-width="1" stroke-linejoin="round"/>
<path d="M526.8,1863.0L526.8,1952.8L479.4,1906.0ZM479.4,1906.0L526.8,1952.8L462.2,1952.8ZM768.5,1690.0L768.5,1714.5L749.8,1696.1ZM749.8,1696.1L768.5,1714.5L730.1,1714.5ZM730.1,1714.5L768.5,1714.5L768.5,1952.8L595.6,1782.3ZM595.6,1782.3L768.5,1952.8L526.8,1952.8L526.8,1863.0ZM1010.2,1579.3L1010.2,1714.5L900.0,1605.8ZM900.0,1605.8L1010.2,1714.5L768.5,1714.5L768.5,1690.0ZM768.5,1714.5L1010.2,1714.5L1010.2,1952.8ZM768.5,1714.5L1010.2,1952.8L768.5,1952.8Z" fill="#00ff40" stroke="#00ff40" stroke-width="1" stroke-linejoin="round"/>
<path d="M526.8,1903.4L526.8,1952.8L500.7,1927.1ZM500.7,1927.1L526.8,1952.8L491.3,1952.8ZM768.5,1723.0L768.5,1952.8L614.2,1800.7ZM614.2,1800.7L768.5,1952.8L526.8,1952.8L526.8,1903.4ZM1010.2,1605.8L1010.2,1714.5L921.6,1627.2ZM921.6,1627.2L1010.2,1714.5L785.3,1714.5ZM785.3,1714.5L1010.2,1714.5L1010.2,1952.8L773.1,1719.0ZM773.1,1719.0L1010.2,1952.8L768.5,1952.8L768.5,1723.0Z" fill="#00ff20" stroke="#00ff20" stroke-width="1" stroke-linejoin="round"/>
<path d="M526.8,1943.7L526.8,1952.8L522.0,1948.1ZM522.0,1948.1L526.8,1952.8L520.3,1952.8ZM768.5,1750.8L768.5,1952.8L632.9,1819.1ZM632.9,1819.1L768.5,1952.8L526.8,1952.8L526.8,1943.7ZM1010.2,1632.4L1010.2,1714.5L943.3,1648.5ZM943.3,1648.5L1010.2,1714.5L840.3,1714.5ZM840.3,1714.5L1010.2,1714.5L1010.2,1952.8L788.1,1733.9ZM788.1,1733.9L1010.2,1952.8L768.5,1952.8L768.5,1750.8Z" fill="#00ff00" stroke="#00ff00" stroke-width="1" stroke-linejoin="round"/>
<path d="M768.5,1778.6L768.5,1952.8L651.6,1837.5ZM651.6,1837.5L768.5,1952.8L553.5,1952.8ZM1010.2,1659.0L1010.2,1714.5L965.0,1669.9ZM965.0,1669.9L1010.2,1714.5L895.3,1714.5ZM895.3,1714.5L1010.2,1714.5L1010.2,1952.8L803.2,1748.7ZM803.2,1748.7L1010.2,1952.8L768.5,1952.8L768.5,1778.6Z" fill="#24ff00" stroke="#24ff00" stroke-width="1" stroke-linejoin="round"/>
<path d="M768.5,1806.5L768.5,1952.8L670.3,1855.9ZM670.3,1855.9L768.5,1952.8L587.8,1952.8ZM1010.2,1685.5L1010.2,1714.5L986.6,1691.2ZM986.6,1691.2L1010.2,1714.5L950.3,1714.5ZM950.3,1714.5L1010.2,1714.5L1010.2,1952.8L818.2,1763.5ZM818.2,1763.5L1010.2,1952.8L768.5,1952.8L768.5,1806.5Z" fill="#49ff00" stroke="#49ff00" stroke-width="1" stroke-linejoin="round"/>
<path d="M768.5,1834.3L768.5,1952.8L688.9,1874.3ZM688.9,1874.3L768.5,1952.8L622.2,1952.8ZM1010.2,1712.1L1010.2,1714.5L1008.3,1712.6ZM1008.3,1712.6L1010.2,1714.5L1005.3,1714.5ZM1005.3,1714.5L1010.2,1714.5L1010.2,1952.8L833.3,1778.4ZM833.3,1778.4L1010.2,1952.8L768.5,1952.8L768.5,1834.3Z" fill="#6dff00" stroke="#6dff00" stroke-width="1" stroke-linejoin="round"/>
<path d="M768.5,1862.1L768.5,1952.8L707.6,1892.8ZM707.6,1892.8L768.5,1952.8L656.5,1952.8ZM1010.2,1733.1L1010.2,1952.8L848.3,1793.2ZM848.3,1793.2L1010.2,1952.8L768.5,1952.8L768.5,1862.1Z" fill="#92ff00" stroke="#92ff00" stroke-width="1" stroke-linejoin="round"/>
<path d="M768.5,1889.9L768.5,1952.8L726.3,1911.2ZM726.3,1911.2L768.5,1952.8L690.9,1952.8ZM1010.2,1753.5L1010.2,1952.8L863.4,1808.0ZM863.4,1808.0L1010.2,1952.8L768.5,1952.8L768.5,1889.9Z" fill="#b6ff00" stroke="#b6ff00" stroke-width="1" stroke-linejoin="round"/>
<path d="M768.5,1917.7L768.5,1952.8L745.0,1929.6ZM745.0,1929.6L768.5,1952.8L725.2,1952.8ZM1010.2,1773.9L1010.2,1952.8L878.4,1822.9ZM878.4,1822.9L1010.2,1952.8L768.5,1952.8L768.5,1917.7Z" fill="#dbff00" stroke="#dbff00" stroke-width="1" stroke-linejoin="round"/>
<path d="M768.5,1945.6L768.5,1952.8L763.7,1948.0ZM763.7,1948.0L768.5,1952.8L759.6,1952.8ZM1010.2,1794.3L1010.2,1952.8L893.5,1837.7ZM893.5,1837.7L1010.2,1952.8L768.5,1952.8L768.5,1945.6Z" fill="#ffff00" stroke="#ffff00" stroke-width="1" stroke-linejoin="round"/>
<path d="M1010.2,1814.8L1010.2,1952.8L908.5,1852.5ZM908.5,1852.5L1010.2,1952.8L792.4,1952.8Z" fill="#ffdb00" stroke="#ffdb00" stroke-width="1" stroke-linejoin="round"/>
<path d="M1010.2,1835.2L1010.2,1952.8L923.5,1867.4ZM923.5,1867.4L1010.2,1952.8L824.6,1952.8Z" fill="#ffb600" stroke="#ffb600" stroke-width="1" stroke-linejoin="round"/>
<path d="M1010.2,1855.6L1010.2,1952.8L938.6,1882.2ZM938.6,1882.2L1010.2,1952.8L856.8,1952.8Z" fill="#ff9200" stroke="#ff9200" stroke-width="1" stroke-linejoin="round"/>
<path d="M1010.2,1876.0L1010.2,1952.8L953.6,1897.0ZM953.6,1897.0L1010.2,1952.8L889.0,1952.8Z" fill="#ff6d00" stroke="#ff6d00" stroke-width="1" stroke-linejoin="round"/>
<path d="M1010.2,1896.4L1010.2,1952.8L968.7,1911.9ZM968.7,1911.9L1010.2,1952.8L921.3,1952.8Z" fill="#ff4900" stroke="#ff4900" stroke-width="1" stroke-linejoin="round"/>
<path d="M1010.2,1916.9L1010.2,1952.8L983.7,1926.7ZM983.7,1926.7L1010.2,1952.8L953.5,1952.8Z" fill="#ff2400" stroke="#ff2400" stroke-width="1" stroke-linejoin="round"/>
<path d="M1010.2,1937.3L1010.2,1952.8L998.8,1941.5ZM998.8,1941.5L1010.2,1952.8L985.7,1952.8Z" fill="#ff0000" stroke="#ff0000" stroke-width="1" stroke-linejoin="round"/>
</g>
<rect x="285.1" y="1237.9" width="725.1" height="714.9" fill="none" stroke="#000" stroke-width="4.0"/>
<path d="M285.1,1237.9h-23.1M285.1,1952.8v23.1M285.1,1357.1h-11.3M406.0,1952.8v11.3M285.1,1476.2h-23.1M526.8,1952.8v23.1M285.1,1595.4h-11.3M647.7,1952.8v11.3M285.1,1714.5h-23.1M768.5,1952.8v23.1M285.1,1833.7h-11.3M889.4,1952.8v11.3M285.1,1952.8h-23.1M1010.2,1952.8v23.1" stroke="#000" stroke-width="4.25" fill="none"/>
<text x="245.5" y="1256.1" font-size="61.1" text-anchor="end" >334.0</text>
<text x="245.5" y="1494.4" font-size="61.1" text-anchor="end" >333.5</text>
<text x="245.5" y="1732.7" font-size="61.1" text-anchor="end" >333.0</text>
<text x="245.5" y="1971.0" font-size="61.1" text-anchor="end" >332.5</text>
<text x="285.0" y="2038.7" font-size="61.1" text-anchor="middle" >0.1</text>
<text x="526.7" y="2038.7" font-size="61.1" text-anchor="middle" >0.2</text>
<text x="768.4" y="2038.7" font-size="61.1" text-anchor="middle" >0.3</text>
<text x="1010.1" y="2038.7" font-size="61.1" text-anchor="middle" >0.4</text>
<text x="647.3" y="2148.2" font-size="69.0" text-anchor="middle" >FFGR</text>
<text transform="translate(75.7,1595.3) rotate(-90)" font-size="69.0" text-anchor="middle">DUD (mm)</text>
<rect x="299.0" y="1251.9" width="83.5" height="84.2" fill="#fff"/>
<text x="340.8" y="1314.6" font-size="62.0" text-anchor="middle" >(c)</text>
<g>
<rect x="1313.0" y="1237.9" width="725.0" height="714.9" fill="#0000ff"/>
<path d="M1353.3,1237.9L1554.7,1237.9L1554.7,1476.2L1321.5,1246.2ZM1321.5,1246.2L1554.7,1476.2L1313.0,1476.2L1313.0,1252.0ZM1313.0,1476.2L1554.7,1476.2L1554.7,1714.5ZM1313.0,1476.2L1554.7,1714.5L1313.0,1714.5ZM1313.0,1714.5L1554.7,1714.5L1554.7,1952.8ZM1313.0,1714.5L1554.7,1952.8L1313.0,1952.8ZM1554.7,1237.9L1796.4,1237.9L1796.4,1476.2ZM1554.7,1237.9L1796.4,1476.2L1554.7,1476.2ZM1554.7,1476.2L1796.4,1476.2L1796.4,1714.5ZM1554.7,1476.2L1796.4,1714.5L1554.7,1714.5ZM1554.7,1714.5L1796.4,1714.5L1796.4,1952.8ZM1554.7,1714.5L1796.4,1952.8L1554.7,1952.8ZM1796.4,1237.9L2038.1,1237.9L2038.1,1476.2ZM1796.4,1237.9L2038.1,1476.2L1796.4,1476.2ZM1796.4,1476.2L2038.1,1476.2L2038.1,1714.5ZM1796.4,1476.2L2038.1,1714.5L1796.4,1714.5ZM1796.4,1714.5L2038.1,1714.5L2038.1,1952.8ZM1796.4,1714.5L2038.1,1952.8L1796.4,1952.8Z" fill="#0024ff" stroke="#0024ff" stroke-width="1" stroke-linejoin="round"/>
<path d="M1554.7,1266.3L1554.7,1476.2L1386.6,1310.4ZM1386.6,1310.4L1554.7,1476.2L1313.0,1476.2L1313.0,1360.5ZM1313.0,1476.2L1554.7,1476.2L1554.7,1714.5ZM1313.0,1476.2L1554.7,1714.5L1313.0,1714.5ZM1313.0,1714.5L1554.7,1714.5L1554.7,1952.8ZM1313.0,1714.5L1554.7,1952.8L1313.0,1952.8ZM1693.6,1237.9L1796.4,1237.9L1796.4,1476.2L1572.2,1255.1ZM1572.2,1255.1L1796.4,1476.2L1554.7,1476.2L1554.7,1266.3ZM1554.7,1476.2L1796.4,1476.2L1796.4,1714.5ZM1554.7,1476.2L1796.4,1714.5L1554.7,1714.5ZM1554.7,1714.5L1796.4,1714.5L1796.4,1952.8ZM1554.7,1714.5L1796.4,1952.8L1554.7,1952.8ZM1796.4,1237.9L2038.1,1237.9L2038.1,1476.2ZM1796.4,1237.9L2038.1,1476.2L1796.4,1476.2ZM1796.4,1476.2L2038.1,1476.2L2038.1,1714.5ZM1796.4,1476.2L2038.1,1714.5L1796.4,1714.5ZM1796.4,1714.5L2038.1,1714.5L2038.1,1952.8ZM1796.4,1714.5L2038.1,1952.8L1796.4,1952.8Z" fill="#0049ff" stroke="#0049ff" stroke-width="1" stroke-linejoin="round"/>
<path d="M1554.7,1347.5L1554.7,1476.2L1451.7,1374.6ZM1451.7,1374.6L1554.7,1476.2L1313.0,1476.2L1313.0,1469.0ZM1313.0,1476.2L1554.7,1476.2L1554.7,1714.5ZM1313.0,1476.2L1554.7,1714.5L1313.0,1714.5ZM1313.0,1714.5L1554.7,1714.5L1554.7,1952.8ZM1313.0,1714.5L1554.7,1952.8L1313.0,1952.8ZM1796.4,1279.6L1796.4,1476.2L1622.1,1304.3ZM1622.1,1304.3L1796.4,1476.2L1554.7,1476.2L1554.7,1347.5ZM1554.7,1476.2L1796.4,1476.2L1796.4,1714.5ZM1554.7,1476.2L1796.4,1714.5L1554.7,1714.5ZM1554.7,1714.5L1796.4,1714.5L1796.4,1952.8ZM1554.7,1714.5L1796.4,1952.8L1554.7,1952.8ZM2038.1,1244.1L2038.1,1476.2L1825.0,1266.0ZM1825.0,1266.0L2038.1,1476.2L1796.4,1476.2L1796.4,1279.6ZM1796.4,1476.2L2038.1,1476.2L2038.1,1714.5ZM1796.4,1476.2L2038.1,1714.5L1796.4,1714.5ZM1796.4,1714.5L2038.1,1714.5L2038.1,1952.8ZM1796.4,1714.5L2038.1,1952.8L1796.4,1952.8Z" fill="#006dff" stroke="#006dff" stroke-width="1" stroke-linejoin="round"/>
<path d="M1554.7,1428.8L1554.7,1476.2L1516.7,1438.7ZM1516.7,1438.7L1554.7,1476.2L1461.8,1476.2ZM1461.8,1476.2L1554.7,1476.2L1554.7,1714.5L1352.5,1515.1ZM1352.5,1515.1L1554.7,1714.5L1313.0,1714.5L1313.0,1572.2ZM1313.0,1714.5L1554.7,1714.5L1554.7,1952.8ZM1313.0,1714.5L1554.7,1952.8L1313.0,1952.8ZM1796.4,1335.8L1796.4,1476.2L1672.0,1353.5ZM1672.0,1353.5L1796.4,1476.2L1554.7,1476.2L1554.7,1428.8ZM1554.7,1476.2L1796.4,1476.2L1796.4,1714.5ZM1554.7,1476.2L1796.4,1714.5L1554.7,1714.5ZM1554.7,1714.5L1796.4,1714.5L1796.4,1952.8ZM1554.7,1714.5L1796.4,1952.8L1554.7,1952.8ZM2038.1,1286.0L2038.1,1476.2L1863.5,1304.0ZM1863.5,1304.0L2038.1,1476.2L1796.4,1476.2L1796.4,1335.8ZM1796.4,1476.2L2038.1,1476.2L2038.1,1714.5ZM1796.4,1476.2L2038.1,1714.5L1796.4,1714.5ZM1796.4,1714.5L2038.1,1714.5L2038.1,1952.8ZM1796.4,1714.5L2038.1,1952.8L1796.4,1952.8Z" fill="#0092ff" stroke="#0092ff" stroke-width="1" stroke-linejoin="round"/>
<path d="M1554.7,1499.8L1554.7,1714.5L1394.8,1556.8ZM1394.8,1556.8L1554.7,1714.5L1313.0,1714.5L1313.0,1674.9ZM1313.0,1714.5L1554.7,1714.5L1554.7,1952.8ZM1313.0,1714.5L1554.7,1952.8L1313.0,1952.8ZM1796.4,1392.1L1796.4,1476.2L1721.8,1402.7ZM1721.8,1402.7L1796.4,1476.2L1607.3,1476.2ZM1607.3,1476.2L1796.4,1476.2L1796.4,1714.5L1567.0,1488.3ZM1567.0,1488.3L1796.4,1714.5L1554.7,1714.5L1554.7,1499.8ZM1554.7,1714.5L1796.4,1714.5L1796.4,1952.8ZM1554.7,1714.5L1796.4,1952.8L1554.7,1952.8ZM2038.1,1327.9L2038.1,1476.2L1902.0,1342.0ZM1902.0,1342.0L2038.1,1476.2L1796.4,1476.2L1796.4,1392.1ZM1796.4,1476.2L2038.1,1476.2L2038.1,1714.5ZM1796.4,1476.2L2038.1,1714.5L1796.4,1714.5ZM1796.4,1714.5L2038.1,1714.5L2038.1,1952.8ZM1796.4,1714.5L2038.1,1952.8L1796.4,1952.8Z" fill="#00b6ff" stroke="#00b6ff" stroke-width="1" stroke-linejoin="round"/>
<path d="M1554.7,1556.6L1554.7,1714.5L1437.1,1598.5ZM1437.1,1598.5L1554.7,1714.5L1356.8,1714.5ZM1356.8,1714.5L1554.7,1714.5L1554.7,1952.8L1329.8,1731.0ZM1329.8,1731.0L1554.7,1952.8L1313.0,1952.8L1313.0,1750.7ZM1796.4,1448.4L1796.4,1476.2L1771.7,1451.9ZM1771.7,1451.9L1796.4,1476.2L1733.8,1476.2ZM1733.8,1476.2L1796.4,1476.2L1796.4,1714.5L1596.5,1517.4ZM1596.5,1517.4L1796.4,1714.5L1554.7,1714.5L1554.7,1556.6ZM1554.7,1714.5L1796.4,1714.5L1796.4,1952.8ZM1554.7,1714.5L1796.4,1952.8L1554.7,1952.8ZM2038.1,1369.9L2038.1,1476.2L1940.5,1379.9ZM1940.5,1379.9L2038.1,1476.2L1796.4,1476.2L1796.4,1448.4ZM1796.4,1476.2L2038.1,1476.2L2038.1,1714.5ZM1796.4,1476.2L2038.1,1714.5L1796.4,1714.5ZM1796.4,1714.5L2038.1,1714.5L2038.1,1952.8ZM1796.4,1714.5L2038.1,1952.8L1796.4,1952.8Z" fill="#00dbff" stroke="#00dbff" stroke-width="1" stroke-linejoin="round"/>
<path d="M1554.7,1613.4L1554.7,1714.5L1479.4,1640.2ZM1479.4,1640.2L1554.7,1714.5L1428.0,1714.5ZM1428.0,1714.5L1554.7,1714.5L1554.7,1952.8L1356.9,1757.8ZM1356.9,1757.8L1554.7,1952.8L1313.0,1952.8L1313.0,1809.5ZM1796.4,1495.3L1796.4,1714.5L1626.0,1546.4ZM1626.0,1546.4L1796.4,1714.5L1554.7,1714.5L1554.7,1613.4ZM1554.7,1714.5L1796.4,1714.5L1796.4,1952.8ZM1554.7,1714.5L1796.4,1952.8L1554.7,1952.8ZM2038.1,1411.8L2038.1,1476.2L1979.0,1417.9ZM1979.0,1417.9L2038.1,1476.2L1856.2,1476.2ZM1856.2,1476.2L2038.1,1476.2L2038.1,1714.5L1808.2,1487.8ZM1808.2,1487.8L2038.1,1714.5L1796.4,1714.5L1796.4,1495.3ZM1796.4,1714.5L2038.1,1714.5L2038.1,1952.8ZM1796.4,1714.5L2038.1,1952.8L1796.4,1952.8Z" fill="#00ffff" stroke="#00ffff" stroke-width="1" stroke-linejoin="round"/>
<path d="M1554.7,1670.2L1554.7,1714.5L1521.7,1681.9ZM1521.7,1681.9L1554.7,1714.5L1499.2,1714.5ZM1499.2,1714.5L1554.7,1714.5L1554.7,1952.8L1384.1,1784.6ZM1384.1,1784.6L1554.7,1952.8L1313.0,1952.8L1313.0,1868.4ZM1796.4,1533.3L1796.4,1714.5L1655.5,1575.5ZM1655.5,1575.5L1796.4,1714.5L1554.7,1714.5L1554.7,1670.2ZM1554.7,1714.5L1796.4,1714.5L1796.4,1952.8ZM1554.7,1714.5L1796.4,1952.8L1554.7,1952.8ZM2038.1,1453.8L2038.1,1476.2L2017.5,1455.9ZM2017.5,1455.9L2038.1,1476.2L1974.7,1476.2ZM1974.7,1476.2L2038.1,1476.2L2038.1,1714.5L1831.4,1510.7ZM1831.4,1510.7L2038.1,1714.5L1796.4,1714.5L1796.4,1533.3ZM1796.4,1714.5L2038.1,1714.5L2038.1,1952.8ZM1796.4,1714.5L2038.1,1952.8L1796.4,1952.8Z" fill="#00ffdf" stroke="#00ffdf" stroke-width="1" stroke-linejoin="round"/>
<path d="M1554.7,1724.0L1554.7,1952.8L1411.3,1811.3ZM1411.3,1811.3L1554.7,1952.8L1313.0,1952.8L1313.0,1927.2ZM1796.4,1571.2L1796.4,1714.5L1685.0,1604.6ZM1685.0,1604.6L1796.4,1714.5L1568.0,1714.5ZM1568.0,1714.5L1796.4,1714.5L1796.4,1952.8L1559.1,1718.8ZM1559.1,1718.8L1796.4,1952.8L1554.7,1952.8L1554.7,1724.0ZM2038.1,1489.5L2038.1,1714.5L1854.7,1533.6ZM1854.7,1533.6L2038.1,1714.5L1796.4,1714.5L1796.4,1571.2ZM1796.4,1714.5L2038.1,1714.5L2038.1,1952.8ZM1796.4,1714.5L2038.1,1952.8L1796.4,1952.8Z" fill="#00ffbf" stroke="#00ffbf" stroke-width="1" stroke-linejoin="round"/>
<path d="M1554.7,1767.3L1554.7,1952.8L1438.4,1838.1ZM1438.4,1838.1L1554.7,1952.8L1341.2,1952.8ZM1796.4,1609.1L1796.4,1714.5L1714.4,1633.7ZM1714.4,1633.7L1796.4,1714.5L1628.4,1714.5ZM1628.4,1714.5L1796.4,1714.5L1796.4,1952.8L1578.8,1738.2ZM1578.8,1738.2L1796.4,1952.8L1554.7,1952.8L1554.7,1767.3ZM2038.1,1518.0L2038.1,1714.5L1877.9,1556.6ZM1877.9,1556.6L2038.1,1714.5L1796.4,1714.5L1796.4,1609.1ZM1796.4,1714.5L2038.1,1714.5L2038.1,1952.8ZM1796.4,1714.5L2038.1,1952.8L1796.4,1952.8Z" fill="#00ff9f" stroke="#00ff9f" stroke-width="1" stroke-linejoin="round"/>
<path d="M1554.7,1810.7L1554.7,1952.8L1465.6,1864.9ZM1465.6,1864.9L1554.7,1952.8L1391.1,1952.8ZM1796.4,1647.0L1796.4,1714.5L1743.9,1662.7ZM1743.9,1662.7L1796.4,1714.5L1688.8,1714.5ZM1688.8,1714.5L1796.4,1714.5L1796.4,1952.8L1598.5,1757.7ZM1598.5,1757.7L1796.4,1952.8L1554.7,1952.8L1554.7,1810.7ZM2038.1,1546.5L2038.1,1714.5L1901.2,1579.5ZM1901.2,1579.5L2038.1,1714.5L1796.4,1714.5L1796.4,1647.0ZM1796.4,1714.5L2038.1,1714.5L2038.1,1952.8ZM1796.4,1714.5L2038.1,1952.8L1796.4,1952.8Z" fill="#00ff80" stroke="#00ff80" stroke-width="1" stroke-linejoin="round"/>
<path d="M1554.7,1854.0L1554.7,1952.8L1492.8,1891.7ZM1492.8,1891.7L1554.7,1952.8L1441.0,1952.8ZM1796.4,1684.9L1796.4,1714.5L1773.4,1691.8ZM1773.4,1691.8L1796.4,1714.5L1749.3,1714.5ZM1749.3,1714.5L1796.4,1714.5L1796.4,1952.8L1618.2,1777.1ZM1618.2,1777.1L1796.4,1952.8L1554.7,1952.8L1554.7,1854.0ZM2038.1,1575.0L2038.1,1714.5L1924.4,1602.4ZM1924.4,1602.4L2038.1,1714.5L1796.4,1714.5L1796.4,1684.9ZM1796.4,1714.5L2038.1,1714.5L2038.1,1952.8ZM1796.4,1714.5L2038.1,1952.8L1796.4,1952.8Z" fill="#00ff60" stroke="#00ff60" stroke-width="1" stroke-linejoin="round"/>
<path d="M1554.7,1897.3L1554.7,1952.8L1520.0,1918.5ZM1520.0,1918.5L1554.7,1952.8L1490.9,1952.8ZM1796.4,1720.9L1796.4,1952.8L1638.0,1796.6ZM1638.0,1796.6L1796.4,1952.8L1554.7,1952.8L1554.7,1897.3ZM2038.1,1603.6L2038.1,1714.5L1947.7,1625.3ZM1947.7,1625.3L2038.1,1714.5L1809.4,1714.5ZM1809.4,1714.5L2038.1,1714.5L2038.1,1952.8L1799.9,1718.0ZM1799.9,1718.0L2038.1,1952.8L1796.4,1952.8L1796.4,1720.9Z" fill="#00ff40" stroke="#00ff40" stroke-width="1" stroke-linejoin="round"/>
<path d="M1554.7,1940.7L1554.7,1952.8L1547.1,1945.3ZM1547.1,1945.3L1554.7,1952.8L1540.8,1952.8ZM1796.4,1749.7L1796.4,1952.8L1657.7,1816.0ZM1657.7,1816.0L1796.4,1952.8L1554.7,1952.8L1554.7,1940.7ZM2038.1,1632.1L2038.1,1714.5L1970.9,1648.2ZM1970.9,1648.2L2038.1,1714.5L1868.2,1714.5ZM1868.2,1714.5L2038.1,1714.5L2038.1,1952.8L1815.9,1733.7ZM1815.9,1733.7L2038.1,1952.8L1796.4,1952.8L1796.4,1749.7Z" fill="#00ff20" stroke="#00ff20" stroke-width="1" stroke-linejoin="round"/>
<path d="M1796.4,1778.6L1796.4,1952.8L1677.4,1835.5ZM1677.4,1835.5L1796.4,1952.8L1580.5,1952.8ZM2038.1,1660.6L2038.1,1714.5L1994.2,1671.2ZM1994.2,1671.2L2038.1,1714.5L1927.0,1714.5ZM1927.0,1714.5L2038.1,1714.5L2038.1,1952.8L1831.9,1749.5ZM1831.9,1749.5L2038.1,1952.8L1796.4,1952.8L1796.4,1778.6Z" fill="#00ff00" stroke="#00ff00" stroke-width="1" stroke-linejoin="round"/>
<path d="M1796.4,1807.5L1796.4,1952.8L1697.2,1854.9ZM1697.2,1854.9L1796.4,1952.8L1616.3,1952.8ZM2038.1,1689.1L2038.1,1714.5L2017.4,1694.1ZM2017.4,1694.1L2038.1,1714.5L1985.8,1714.5ZM1985.8,1714.5L2038.1,1714.5L2038.1,1952.8L1847.9,1765.2ZM1847.9,1765.2L2038.1,1952.8L1796.4,1952.8L1796.4,1807.5Z" fill="#24ff00" stroke="#24ff00" stroke-width="1" stroke-linejoin="round"/>
<path d="M1796.4,1836.4L1796.4,1952.8L1716.9,1874.4ZM1716.9,1874.4L1796.4,1952.8L1652.1,1952.8ZM2038.1,1716.9L2038.1,1952.8L1863.9,1781.0ZM1863.9,1781.0L2038.1,1952.8L1796.4,1952.8L1796.4,1836.4Z" fill="#49ff00" stroke="#49ff00" stroke-width="1" stroke-linejoin="round"/>
<path d="M1796.4,1865.3L1796.4,1952.8L1736.6,1893.9ZM1736.6,1893.9L1796.4,1952.8L1687.9,1952.8ZM2038.1,1738.5L2038.1,1952.8L1879.9,1796.8ZM1879.9,1796.8L2038.1,1952.8L1796.4,1952.8L1796.4,1865.3Z" fill="#6dff00" stroke="#6dff00" stroke-width="1" stroke-linejoin="round"/>
<path d="M1796.4,1894.2L1796.4,1952.8L1756.4,1913.3ZM1756.4,1913.3L1796.4,1952.8L1723.7,1952.8ZM2038.1,1760.2L2038.1,1952.8L1895.8,1812.5ZM1895.8,1812.5L2038.1,1952.8L1796.4,1952.8L1796.4,1894.2Z" fill="#92ff00" stroke="#92ff00" stroke-width="1" stroke-linejoin="round"/>
<path d="M1796.4,1923.0L1796.4,1952.8L1776.1,1932.8ZM1776.1,1932.8L1796.4,1952.8L1759.5,1952.8ZM2038.1,1781.8L2038.1,1952.8L1911.8,1828.3ZM1911.8,1828.3L2038.1,1952.8L1796.4,1952.8L1796.4,1923.0Z" fill="#b6ff00" stroke="#b6ff00" stroke-width="1" stroke-linejoin="round"/>
<path d="M1796.4,1951.9L1796.4,1952.8L1795.8,1952.2ZM1795.8,1952.2L1796.4,1952.8L1795.3,1952.8ZM2038.1,1803.5L2038.1,1952.8L1927.8,1844.1ZM1927.8,1844.1L2038.1,1952.8L1796.4,1952.8L1796.4,1951.9Z" fill="#dbff00" stroke="#dbff00" stroke-width="1" stroke-linejoin="round"/>
<path d="M2038.1,1825.1L2038.1,1952.8L1943.8,1859.8ZM1943.8,1859.8L2038.1,1952.8L1830.5,1952.8Z" fill="#ffff00" stroke="#ffff00" stroke-width="1" stroke-linejoin="round"/>
<path d="M2038.1,1846.7L2038.1,1952.8L1959.8,1875.6ZM1959.8,1875.6L2038.1,1952.8L1865.7,1952.8Z" fill="#ffdb00" stroke="#ffdb00" stroke-width="1" stroke-linejoin="round"/>
<path d="M2038.1,1868.4L2038.1,1952.8L1975.8,1891.3ZM1975.8,1891.3L2038.1,1952.8L1900.9,1952.8Z" fill="#ffb600" stroke="#ffb600" stroke-width="1" stroke-linejoin="round"/>
<path d="M2038.1,1890.0L2038.1,1952.8L1991.7,1907.1ZM1991.7,1907.1L2038.1,1952.8L1936.1,1952.8Z" fill="#ff9200" stroke="#ff9200" stroke-width="1" stroke-linejoin="round"/>
<path d="M2038.1,1911.7L2038.1,1952.8L2007.7,1922.9ZM2007.7,1922.9L2038.1,1952.8L1971.3,1952.8Z" fill="#ff6d00" stroke="#ff6d00" stroke-width="1" stroke-linejoin="round"/>
<path d="M2038.1,1933.3L2038.1,1952.8L2023.7,1938.6ZM2023.7,1938.6L2038.1,1952.8L2006.4,1952.8Z" fill="#ff4900" stroke="#ff4900" stroke-width="1" stroke-linejoin="round"/>
</g>
<rect x="1313.0" y="1237.9" width="725.0" height="714.9" fill="none" stroke="#000" stroke-width="4.0"/>
<path d="M1313.0,1237.9h-23.1M1313.0,1952.8v23.1M1313.0,1357.1h-11.3M1433.9,1952.8v11.3M1313.0,1476.2h-23.1M1554.7,1952.8v23.1M1313.0,1595.4h-11.3M1675.6,1952.8v11.3M1313.0,1714.5h-23.1M1796.4,1952.8v23.1M1313.0,1833.7h-11.3M1917.3,1952.8v11.3M1313.0,1952.8h-23.1M2038.1,1952.8v23.1" stroke="#000" stroke-width="4.25" fill="none"/>
<text x="1273.5" y="1256.1" font-size="61.1" text-anchor="end" >334.0</text>
<text x="1273.5" y="1494.4" font-size="61.1" text-anchor="end" >333.5</text>
<text x="1273.5" y="1732.7" font-size="61.1" text-anchor="end" >333.0</text>
<text x="1273.5" y="1971.0" font-size="61.1" text-anchor="end" >332.5</text>
<text x="1313.0" y="2038.7" font-size="61.1" text-anchor="middle" >0.1</text>
<text x="1554.6" y="2038.7" font-size="61.1" text-anchor="middle" >0.2</text>
<text x="1796.3" y="2038.7" font-size="61.1" text-anchor="middle" >0.3</text>
<text x="2038.0" y="2038.7" font-size="61.1" text-anchor="middle" >0.4</text>
<text x="1675.2" y="2148.2" font-size="69.0" text-anchor="middle" >FFGR</text>
<text transform="translate(1103.6,1595.3) rotate(-90)" font-size="69.0" text-anchor="middle">DUD (mm)</text>
<rect x="1326.9" y="1251.9" width="86.8" height="84.2" fill="#fff"/>
<text x="1370.3" y="1314.6" font-size="62.0" text-anchor="middle" >(d)</text>
</svg></body></html>
